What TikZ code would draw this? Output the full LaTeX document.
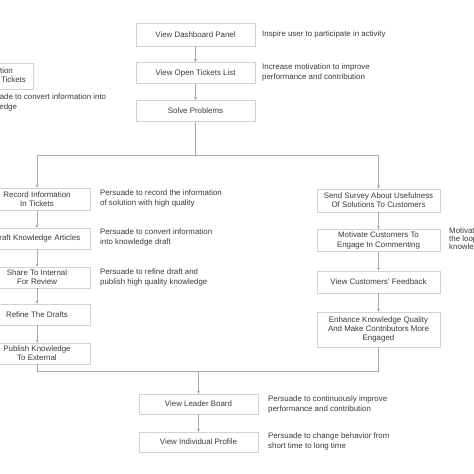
\documentclass[tikz,border=0pt]{standalone}
\usepackage{fontspec}
\setmainfont{Liberation Sans}
\usetikzlibrary{arrows.meta}
\definecolor{boxc}{HTML}{D2D2D2}
\definecolor{linec}{HTML}{A8A8A8}
\definecolor{txtc}{HTML}{3A3A3A}
\begin{document}
\begin{tikzpicture}[x=1pt,y=-1pt,
  box/.style={draw=boxc, line width=0.8pt, fill=white, align=center, inner sep=0pt,
    text=txtc, font=\fontsize{7.9}{9.2}\selectfont},
  topbox/.style={box, minimum width=119pt, minimum height=21pt},
  leftbox/.style={box, minimum width=106pt, minimum height=21pt},
  rightbox/.style={box, minimum width=123pt, minimum height=22pt},
  note/.style={anchor=west, align=left, inner sep=0pt, text=txtc,
    font=\fontsize{7.9}{9.2}\selectfont},
  conn/.style={draw=linec, line width=0.7pt},
  arr/.style={conn, -{Stealth[length=3pt,width=3pt]}}]
\useasboundingbox[fill=white] (0,0) rectangle (474,474);

% top column
\node[topbox, minimum height=23pt] (dash) at (195.5,34.5) {View Dashboard Panel};
\node[topbox] (open) at (195.5,73) {View Open Tickets List};
\node[topbox] (solve) at (195.5,111) {Solve Problems};
\node[note] (n1) at (262,34.5) {Inspire user to participate in activity};
\node[note] (n2) at (262,72.5) {Increase motivation to improve\\performance and contribution};

% left column
\node[leftbox, minimum height=22pt] (rec) at (37,199) {Record Information\\In Tickets};
\node[leftbox] (draft) at (37,238.5) {Draft Knowledge Articles};
\node[leftbox] (share) at (37,277.5) {Share To Internal\\For Review};
\node[leftbox] (refine) at (37,314.5) {Refine The Drafts};
\node[leftbox] (pub) at (37,353.5) {Publish Knowledge\\To External};
\node[note] (n3) at (100,198.5) {Persuade to record the information\\of solution with high quality};
\node[note] (n4) at (100,237.5) {Persuade to convert information\\into knowledge draft};
\node[note] (n5) at (100,277.5) {Persuade to refine draft and\\publish high quality knowledge};

% right column
\node[rightbox, minimum height=23pt] (survey) at (378.5,200.5) {Send Survey About Usefulness\\Of Solutions To Customers};
\node[rightbox] (motiv) at (378.5,240.5) {Motivate Customers To\\Engage In Commenting};
\node[rightbox] (feed) at (378.5,282) {View Customers' Feedback};
\node[rightbox, minimum height=35pt] (enh) at (378.5,329.5) {Enhance Knowledge Quality\\And Make Contributors More\\Engaged};
\node[note, font=\fontsize{7.9}{8}\selectfont] (n8) at (449,239.5) {Motivate\\the loop\\knowledge};

% bottom column
\node[topbox, minimum height=20pt] (leader) at (198.5,404) {View Leader Board};
\node[topbox, minimum height=20pt] (prof) at (198.5,442) {View Individual Profile};
\node[note] (n6) at (268,404.5) {Persuade to continuously improve\\performance and contribution};
\node[note] (n7) at (268,441.5) {Persuade to change behavior from\\short time to long time};

% fragments at the left edge
\node[draw=boxc, line width=0.8pt, minimum width=106pt, minimum height=26pt, inner sep=0pt] (frag) at (-20,76) {};
\node[note, anchor=east] (fr1) at (13,71) {Information};
\node[note, anchor=east] (fr2) at (26,79.5) {In Tickets};
\node[note] (fr3) at (-21,102.5) {Persuade to convert information into\\knowledge};

% connectors
\draw[arr] (dash) -- (open);
\draw[arr] (open) -- (solve);
\coordinate (sp) at (195.5,155);
\draw[arr] (solve.south) -- (sp) -| (rec.north);
\draw[arr] (sp) -| (survey.north);
\draw[arr] (rec) -- (draft);
\draw[arr] (draft) -- (share);
\draw[arr] (share) -- (refine);
\draw[arr] (refine) -- (pub);
\draw[arr] (survey) -- (motiv);
\draw[arr] (motiv) -- (feed);
\draw[arr] (feed) -- (enh);
\coordinate (mj) at (198.5,371);
\draw[conn] (pub.south) |- (mj);
\draw[conn] (enh.south) |- (mj);
\draw[arr] (mj) -- (leader.north);
\draw[arr] (leader) -- (prof);
\end{tikzpicture}
\end{document}
